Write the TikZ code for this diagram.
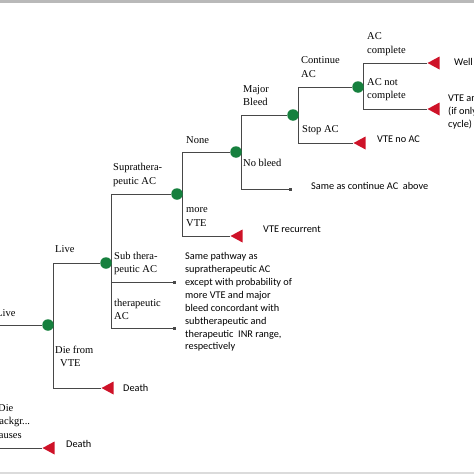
\documentclass[tikz,border=0pt]{standalone}
\usepackage{fontspec}
\setmainfont{Liberation Serif}
\newfontfamily\outfont{Carlito}
\usetikzlibrary{shapes.geometric,arrows.meta,backgrounds}
\definecolor{chgreen}{RGB}{22,128,62}
\definecolor{termred}{RGB}{206,18,40}
\definecolor{linegray}{RGB}{72,72,72}
\tikzset{
  chance/.style={circle,fill=chgreen,minimum size=11.5pt,inner sep=0pt},
  term/.style={isosceles triangle,fill=termred,shape border rotate=180,
    isosceles triangle stretches,minimum height=12pt,minimum width=13pt,
    inner sep=0pt,anchor=apex},
  conn/.style={draw=linegray,line width=1pt},
  tick/.style={-{Square[length=2.6pt,width=3pt]}},
  blab/.style={font=\fontsize{10.5}{13.5}\selectfont,anchor=west,inner sep=0pt,align=left},
  olab/.style={font=\outfont\fontsize{10.3}{12.9}\selectfont,anchor=west,inner sep=0pt,align=left}
}
\begin{document}
\begin{tikzpicture}[x=1pt,y=-1pt]
\useasboundingbox (0,0) rectangle (474,474);
\clip (0,0) rectangle (474,474);

% chance nodes
\node[chance] (c1) at (48,325) {};
\node[chance] (c2) at (106,263) {};
\node[chance] (c3) at (177,194) {};
\node[chance] (c4) at (236,152) {};
\node[chance] (c5) at (293,115) {};
\node[chance] (c6) at (358,87) {};

% terminal nodes
\node[term] (tW) at (427,63) {};
\node[term] (tVA) at (427,109) {};
\node[term] (tNA) at (353,143) {};
\node[term] (tVR) at (230,236) {};
\node[term] (tD1) at (101,388) {};
\node[term] (tD2) at (42,448) {};

% free ends
\coordinate (in1) at (0,325);
\coordinate (in2) at (0,448);
\coordinate (m1) at (176,282);
\coordinate (m2) at (176,328);
\coordinate (m3) at (292,189);

\begin{scope}[on background layer]
\fill[gray!55] (0,0) rectangle (474,2.5);
\fill[gray!28] (0,471.5) rectangle (474,474);
\draw[conn] (in1) -- (c1);
\draw[conn] (c2) -| (c1.east) |- (tD1.apex);
\draw[conn] (in2) -- (tD2.apex);
\draw[conn,tick] (c3) -| (c2.east) |- (m2);
\draw[conn,tick] (c2.east |- m1) -- (m1);
\draw[conn] (c4) -| (c3.east) |- (tVR.apex);
\draw[conn,tick] (c5) -| (c4.east) |- (m3);
\draw[conn] (c6) -| (c5.east) |- (tNA.apex);
\draw[conn] (tW.apex) -| (c6.east) |- (tVA.apex);
\end{scope}

% branch labels
\node[blab] (lLive0) at (-4,313) {Live};
\node[blab] (lLive) at (55,249) {Live};
\node[blab] (lDie) at (55,356.5) {Die from\\\hspace{5pt}VTE};
\node[blab] (lSup) at (113,175) {Suprathera-\\peutic AC};
\node[blab] (lSub) at (114,263.5) {Sub thera-\\peutic AC};
\node[blab] (lTher) at (114,309.5) {therapeutic\\AC};
\node[blab] (lNone) at (186,140) {None};
\node[blab] (lMore) at (186,217) {more\\VTE};
\node[blab] (lMaj) at (243,95.5) {Major\\Bleed};
\node[blab] (lNoB) at (243,163) {No bleed};
\node[blab] (lCont) at (301,67) {Continue\\AC};
\node[blab] (lStop) at (302,130) {Stop AC};
\node[blab] (lACc) at (367,44) {AC\\complete};
\node[blab] (lACn) at (367,89.5) {AC not\\complete};
\node[blab] (lBg) at (-6,421.5) {\hspace{4pt}Die\\backgr...\\causes};

% outcome labels
\node[olab] (oW) at (454,62) {Well};
\node[olab] (oVA) at (448,112) {VTE and\\(if only\\cycle)};
\node[olab] (oNA) at (377,139) {VTE no AC};
\node[olab] (oSame) at (311,186) {Same as continue AC\ \ above};
\node[olab] (oVR) at (263,229) {VTE recurrent};
\node[olab] (oPath) at (185,302) {Same pathway as\\supratherapeutic AC\\except with probability of\\more VTE and major\\bleed concordant with\\subtherapeutic and\\therapeutic\ \ INR range,\\respectively};
\node[olab] (oD1) at (123,388) {Death};
\node[olab] (oD2) at (66,444) {Death};
\end{tikzpicture}
\end{document}
